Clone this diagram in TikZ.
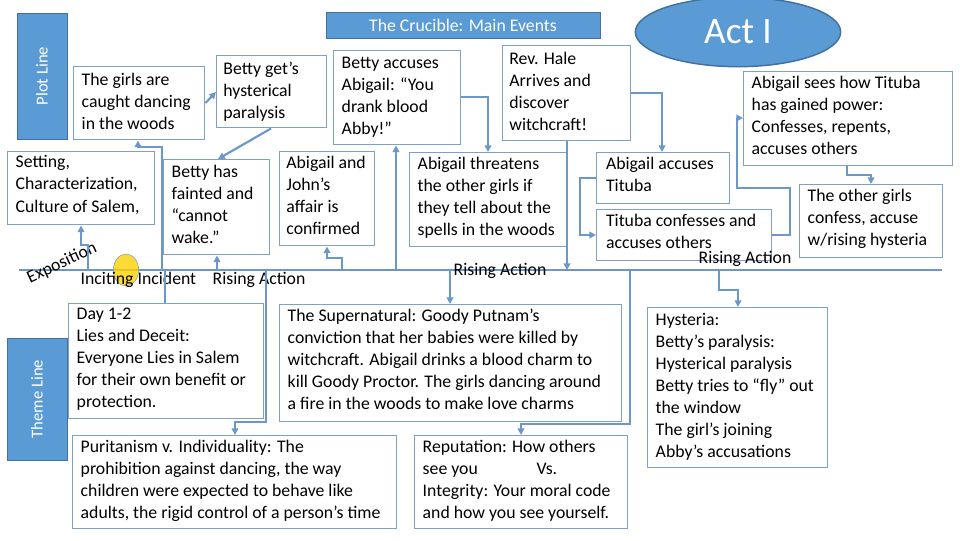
\documentclass[tikz,border=0pt]{standalone}
\usepackage{fontspec}
\setmainfont{Carlito}
\usetikzlibrary{arrows.meta,shapes.geometric}
\definecolor{ln}{HTML}{6B97C9}
\definecolor{bx}{HTML}{7FA0C8}
\definecolor{bar}{HTML}{5B9BD5}
\definecolor{bard}{HTML}{41719C}
\begin{document}
\begin{tikzpicture}[x=0.75pt,y=-0.75pt,
 box/.style={draw=bx,line width=1.1pt,fill=white,align=left,anchor=north west,inner sep=0pt,font=\fontsize{13.3}{16.5}\selectfont},
 con/.style={draw=ln,line width=1.6pt},
 arr/.style={con,-{Triangle[length=5pt,width=5pt]}},
 lab/.style={font=\fontsize{13.3}{15}\selectfont},
 barn/.style={draw=bard,line width=1.1pt,fill=bar,text=white}]
\useasboundingbox (0,0) rectangle (960,540);
% bars
\node[barn,minimum width=37.5pt,minimum height=94.5pt,anchor=north west] (plot) at (17,13) {};
\node[text=white,rotate=90,font=\fontsize{12.5}{14}\selectfont] (plotl) at (42,76) {Plot Line};
\node[barn,minimum width=45pt,minimum height=91.5pt,anchor=north west] (theme) at (7,338) {};
\node[text=white,rotate=90,font=\fontsize{12.5}{14}\selectfont] (themel) at (37,399) {Theme Line};
\node[barn,minimum width=205.5pt,minimum height=19.5pt,anchor=north west] (title) at (326,12) {};
\node[text=white,font=\fontsize{13.3}{15}\selectfont] (titlel) at (463,25) {The Crucible: Main Events};
\node[draw=bard,line width=1.1pt,fill=bar,ellipse,minimum width=154pt,minimum height=52pt,text=white,font=\fontsize{28}{32}\selectfont,inner sep=0pt] (act) at (738,32) {Act I};
% timeline
\draw[con] (19,270) coordinate (t0) -- (942,270) coordinate (t1);
% boxes
\node[box] (girls) at (73,66) {\parbox[t][54.75pt][t]{98.25pt}{\vspace{5pt}\hspace*{6pt}\parbox[t]{90pt}{The girls are\\caught dancing\\in the woods}}};
\node[box] (gets) at (216,55) {\parbox[t][54pt][t]{82.5pt}{\vspace{5pt}\hspace*{5pt}\parbox[t]{78pt}{Betty get’s\\hysterical\\paralysis}}};
\node[box] (accuses) at (333,50) {\parbox[t][70.5pt][t]{95.25pt}{\vspace{5pt}\hspace*{6pt}\parbox[t]{88pt}{Betty accuses\\Abigail: “You\\drank blood\\Abby!”}}};
\node[box] (hale) at (502,45) {\parbox[t][71.25pt][t]{96pt}{\vspace{5pt}\hspace*{5pt}\parbox[t]{90pt}{Rev. Hale\\Arrives and\\discover\\witchcraft!}}};
\node[box] (sees) at (743,71) {\parbox[t][70.5pt][t]{156.75pt}{\vspace{3pt}\hspace*{6pt}\parbox[t]{150pt}{Abigail sees how Tituba\\has gained power:\\Confesses, repents,\\accuses others}}};
\node[box] (setting) at (7,151) {\parbox[t][54.75pt][t]{110.25pt}{\vspace{3pt}\hspace*{6pt}\parbox[t]{104pt}{Setting,\\Characterization,\\Culture of Salem,}}};
\node[box] (fainted) at (163,159) {\parbox[t][71.25pt][t]{79.5pt}{\vspace{4pt}\hspace*{6pt}\parbox[t]{73pt}{Betty has\\fainted and\\“cannot\\wake.”}}};
\node[box] (affair) at (279,151) {\parbox[t][70.5pt][t]{71.25pt}{\vspace{3pt}\hspace*{5pt}\parbox[t]{66pt}{Abigail and\\John’s\\affair is\\confirmed}}};
\node[box] (threat) at (409,152) {\parbox[t][70.5pt][t]{117.75pt}{\vspace{3pt}\hspace*{6pt}\parbox[t]{112pt}{Abigail threatens\\the other girls if\\they tell about the\\spells in the woods}}};
\node[box] (tituba) at (596,152) {\parbox[t][38.25pt][t]{99.75pt}{\vspace{3pt}\hspace*{7pt}\parbox[t]{92pt}{Abigail accuses\\Tituba}}};
\node[box] (tconf) at (596,209) {\parbox[t][38.25pt][t]{131.25pt}{\vspace{3pt}\hspace*{7pt}\parbox[t]{124pt}{Tituba confesses and\\accuses others}}};
\node[box] (others) at (799,184) {\parbox[t][54.75pt][t]{107.25pt}{\vspace{3pt}\hspace*{6pt}\parbox[t]{100pt}{The other girls\\confess, accuse\\w/rising hysteria}}};
\node[box] (day) at (68,303) {\parbox[t][86.25pt][t]{146.25pt}{\vspace{3pt}\hspace*{6pt}\parbox[t]{140pt}{Day 1-2\\Lies and Deceit:\\Everyone Lies in Salem\\for their own benefit or\\protection.}}};
\node[box] (super) at (279,304) {\parbox[t][87.75pt][t]{256.5pt}{\vspace{3pt}\hspace*{6pt}\parbox[t]{250pt}{The Supernatural: Goody Putnam’s\\conviction that her babies were killed by\\witchcraft. Abigail drinks a blood charm to\\kill Goody Proctor. The girls dancing around\\a fire in the woods to make love charms}}};
\node[box] (purit) at (72,435) {\parbox[t][69.75pt][t]{243pt}{\vspace{3pt}\hspace*{6pt}\parbox[t]{236pt}{Puritanism v. Individuality: The\\prohibition against dancing, the way\\children were expected to behave like\\adults, the rigid control of a person’s time}}};
\node[box] (rep) at (414,435) {\parbox[t][69.75pt][t]{159.75pt}{\vspace{3pt}\hspace*{6pt}\parbox[t]{154pt}{Reputation: How others\\see you \hspace{38pt} Vs.\\Integrity: Your moral code\\and how you see yourself.}}};
\node[box] (hyst) at (647,307) {\parbox[t][120pt][t]{135pt}{\vspace{4pt}\hspace*{6pt}\parbox[t]{129pt}{Hysteria:\\Betty’s paralysis:\\Hysterical paralysis\\Betty tries to “fly” out\\the window\\The girl’s joining\\Abby’s accusations}}};
% labels on timeline
\node[fill=yellow!70!orange,draw=bard!70,minimum width=19pt,minimum height=24pt,ellipse,inner sep=0pt,fill opacity=0.8] (inc) at (126,270) {};
\node[rotate=25,lab] (expo) at (62,263) {Exposition};
\node[anchor=west,lab] (incl) at (76,280) {Inciting Incident};
\node[anchor=west,lab] (ra1) at (208,280) {Rising Action};
\node[anchor=west,lab] (ra2) at (449,271) {Rising Action};
\node[anchor=west,lab] (ra3) at (694,259) {Rising Action};
% connectors up
\draw[arr] (88,270) -- (88,245) -- (81,245) -- (setting.south -| 81,0);
\draw[arr] (162,270) -- (162,147) -- (138,147) -- (girls.south -| 138,0);
\draw[con] (165,270) -- (day.north -| 165,0);
\draw[arr] (girls.east |- 0,103) -- (gets.west |- 0,92);
\draw[arr] (gets.south -| 271,0) -- (fainted.north -| 218,0);
\draw[arr] (217,270) -- (fainted.south -| 217,0);
\draw[arr] (342,270) -- (342,258) -- (327,258) -- (affair.south -| 327,0);
\draw[arr] (396,270) -- (accuses.south -| 396,0);
\draw[arr] (accuses.east |- 0,97) -- (488,97) -- (threat.north -| 488,0);
\draw[arr] (hale.south -| 567,0) -- (567,270);
\draw[arr] (hale.east |- 0,93) -- (662,93) -- (tituba.north -| 662,0);
\draw[arr] (tituba.west |- 0,178) -- (580,178) -- (580,235) -- (tconf.west |- 0,235);
\draw[arr] (tconf.east |- 0,235) -- (790,235) -- (790,188) -- (737,188) -- (737,118) -- (sees.west |- 0,118);
\draw[arr] (sees.south -| 847,0) -- (847,175) -- (871,175) -- (others.north -| 871,0);
% connectors down
\draw[arr] (266,270) -- (266,422) -- (235,422) -- (purit.north -| 235,0);
\draw[arr] (450,270) -- (super.north -| 450,0);
\draw[arr] (630,270) -- (630,424) -- (521,424) -- (rep.north -| 521,0);
\draw[arr] (719,270) -- (719,290) -- (738,290) -- (hyst.north -| 738,0);
\end{tikzpicture}
\end{document}
